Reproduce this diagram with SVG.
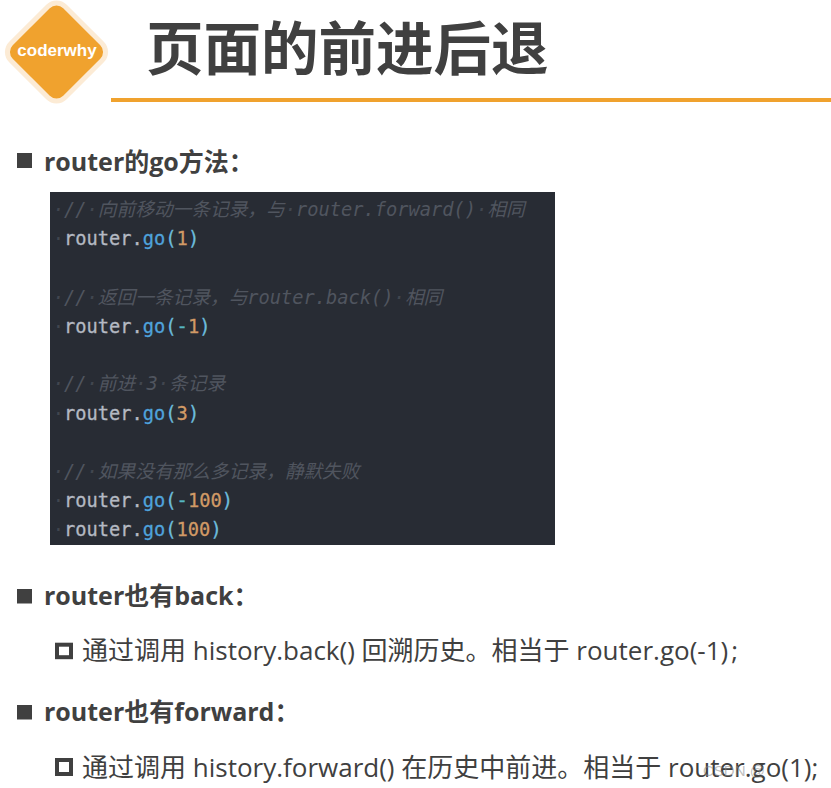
<svg xmlns="http://www.w3.org/2000/svg" width="831" height="788" viewBox="0 0 831 788">
<style>
.cn{font-family:"Open Sans","Noto Sans CJK SC",sans-serif;fill:#404040}
.h{font-size:25px;font-weight:700}
.b{font-size:26px}
.m{font-family:"DejaVu Sans Mono","Noto Sans CJK SC",monospace;font-size:18.7px;stroke-width:.3px}
.c{fill:#50555f;font-style:italic}
.d{fill:#41464f}
.w{fill:#b4b9c3;stroke:#b4b9c3}.f{fill:#4fa3dc;stroke:#4fa3dc}.p{fill:#6cbcdc;stroke:#6cbcdc}.t{fill:#56b6c2;stroke:#56b6c2}.n{fill:#d19a66;stroke:#d19a66}
.sq{fill:#404040}
.ob{fill:none;stroke:#404040;stroke-width:4}
</style>
<rect width="831" height="788" fill="#fff"/>
<g id="logo">
<rect x="18.300" y="13.800" width="76.400" height="76.400" rx="12" fill="#f0a22e" stroke="#fcebd5" stroke-width="5" transform="rotate(45 56.500 52)"/>
<text x="57" y="56" text-anchor="middle" font-family="Liberation Sans,sans-serif" font-weight="700" font-size="17" fill="#fff">coderwhy</text>
</g>
<g id="title">
<text x="146" y="70" font-size="57.500" font-weight="700" fill="#404040" font-family="Noto Sans CJK SC,sans-serif">页面的前进后退</text>
<rect x="111" y="98" width="720" height="4" fill="#f0a22e"/>
</g>
<g id="s1">
<rect class="sq" x="17" y="153" width="15" height="15"/>
<text x="44" y="171" class="cn h">router的go方法：</text>
</g>
<g id="code">
<rect x="50" y="192" width="505" height="353" fill="#282c34"/>
<text class="m c" x="52.800" y="216"><tspan class="d">·</tspan>//<tspan class="d">·</tspan>向前移动一条记录，与<tspan class="d">·</tspan>router.forward()<tspan class="d">·</tspan>相同</text>
<text class="m" x="52.800" y="245"><tspan class="d">·</tspan><tspan class="w">router.</tspan><tspan class="f">go</tspan><tspan class="p">(</tspan><tspan class="n">1</tspan><tspan class="p">)</tspan></text>
<text class="m c" x="52.800" y="304"><tspan class="d">·</tspan>//<tspan class="d">·</tspan>返回一条记录，与router.back()<tspan class="d">·</tspan>相同</text>
<text class="m" x="52.800" y="333"><tspan class="d">·</tspan><tspan class="w">router.</tspan><tspan class="f">go</tspan><tspan class="p">(</tspan><tspan class="t">-</tspan><tspan class="n">1</tspan><tspan class="p">)</tspan></text>
<text class="m c" x="52.800" y="390"><tspan class="d">·</tspan>//<tspan class="d">·</tspan>前进<tspan class="d">·</tspan>3<tspan class="d">·</tspan>条记录</text>
<text class="m" x="52.800" y="420"><tspan class="d">·</tspan><tspan class="w">router.</tspan><tspan class="f">go</tspan><tspan class="p">(</tspan><tspan class="n">3</tspan><tspan class="p">)</tspan></text>
<text class="m c" x="52.800" y="478"><tspan class="d">·</tspan>//<tspan class="d">·</tspan>如果没有那么多记录，静默失败</text>
<text class="m" x="52.800" y="507"><tspan class="d">·</tspan><tspan class="w">router.</tspan><tspan class="f">go</tspan><tspan class="p">(</tspan><tspan class="t">-</tspan><tspan class="n">100</tspan><tspan class="p">)</tspan></text>
<text class="m" x="52.800" y="536"><tspan class="d">·</tspan><tspan class="w">router.</tspan><tspan class="f">go</tspan><tspan class="p">(</tspan><tspan class="n">100</tspan><tspan class="p">)</tspan></text>
</g>
<g id="s2">
<rect class="sq" x="17" y="589" width="15" height="14.500"/>
<text x="44" y="605" class="cn h">router也有back：</text>
</g>
<g id="s2a">
<rect class="ob" x="57" y="644.700" width="14" height="12.500"/>
<text x="82" y="660" class="cn b">通过调用 history.back() 回溯历史。相当于 router.go(-1)<tspan dx="3">;</tspan></text>
</g>
<g id="s3">
<rect class="sq" x="17" y="705" width="15" height="14.500"/>
<text x="44" y="721" class="cn h">router也有forward：</text>
</g>
<g id="s3a">
<rect class="ob" x="57" y="760" width="14" height="14"/>
<text x="82" y="777" class="cn b">通过调用 history.forward() 在历史中前进。相当于 router.go(1);</text>
</g>
<text id="watermark" x="703" y="776" font-family="Liberation Sans,sans-serif" font-size="15" fill="#8a8a8a" fill-opacity=".55">CSDN @</text>
</svg>
